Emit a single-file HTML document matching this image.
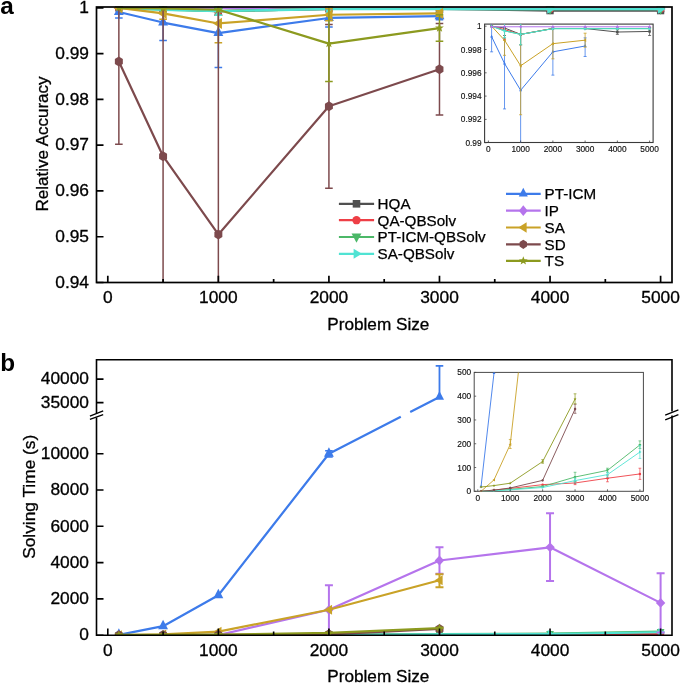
<!DOCTYPE html>
<html><head><meta charset="utf-8"><title>Figure</title>
<style>
html,body{margin:0;padding:0;background:#fff;}
body{width:680px;height:685px;overflow:hidden;}
svg{display:block;font-family:"Liberation Sans",Arial,Helvetica,sans-serif;fill:#000;}
.t{font-size:16.3px;}
.lg{font-size:15.4px;}
.in{font-size:8.3px;fill:#111;stroke:#111;stroke-width:0.15px;}
.pl{font-size:24.3px;font-weight:bold;}
</style></head><body>
<svg width="680" height="685" viewBox="0 0 680 685">
<rect width="680" height="685" fill="#fff"/>
<defs>
<clipPath id="ca"><rect x="96.5" y="6.4" width="575.5" height="276.1"/></clipPath>
<clipPath id="cb"><rect x="96.5" y="359.7" width="575.5" height="275.6"/></clipPath>
<clipPath id="cia"><rect x="484.6" y="24.1" width="168.5" height="118.4"/></clipPath>
<clipPath id="cib"><rect x="474.2" y="372.4" width="169.2" height="119"/></clipPath>
</defs>

<g clip-path="url(#ca)">
<path d="M118.86,7.90L163.08,7.90L218.36,7.90L328.92,7.90L439.48,7.90L550.04,7.90L660.60,7.90" stroke="#b574ec" stroke-width="2.2" fill="none" stroke-linejoin="round"/><polygon points="114.11,7.90 118.86,2.03 123.61,7.90 118.86,13.78" fill="#b574ec"/><polygon points="158.33,7.90 163.08,2.03 167.83,7.90 163.08,13.78" fill="#b574ec"/><polygon points="213.61,7.90 218.36,2.03 223.11,7.90 218.36,13.78" fill="#b574ec"/><polygon points="324.17,7.90 328.92,2.03 333.67,7.90 328.92,13.78" fill="#b574ec"/><polygon points="434.73,7.90 439.48,2.03 444.23,7.90 439.48,13.78" fill="#b574ec"/><polygon points="545.29,7.90 550.04,2.03 554.79,7.90 550.04,13.78" fill="#b574ec"/><polygon points="655.85,7.90 660.60,2.03 665.35,7.90 660.60,13.78" fill="#b574ec"/>
<path d="M163.08,10.65V6.53M159.28,10.65h7.60M159.28,6.53h7.60" stroke="#505050" stroke-width="1.5" fill="none"/><path d="M218.36,15.22V6.98M214.56,15.22h7.60M214.56,6.98h7.60" stroke="#505050" stroke-width="1.5" fill="none"/><path d="M550.04,11.56V8.36M546.24,11.56h7.60M546.24,8.36h7.60" stroke="#505050" stroke-width="1.5" fill="none"/><path d="M660.60,11.56V8.36M656.80,11.56h7.60M656.80,8.36h7.60" stroke="#505050" stroke-width="1.5" fill="none"/><path d="M118.86,7.90L163.08,8.59L218.36,11.10L328.92,8.82L439.48,8.82L550.04,10.65L660.60,10.65" stroke="#505050" stroke-width="2.2" fill="none" stroke-linejoin="round"/><rect x="115.23" y="4.27" width="7.26" height="7.26" fill="#505050"/><rect x="159.45" y="4.96" width="7.26" height="7.26" fill="#505050"/><rect x="214.73" y="7.47" width="7.26" height="7.26" fill="#505050"/><rect x="325.29" y="5.19" width="7.26" height="7.26" fill="#505050"/><rect x="435.85" y="5.19" width="7.26" height="7.26" fill="#505050"/><rect x="546.41" y="7.02" width="7.26" height="7.26" fill="#505050"/><rect x="656.97" y="7.02" width="7.26" height="7.26" fill="#505050"/>
<path d="M163.08,12.48V6.53M159.28,12.48h7.60M159.28,6.53h7.60" stroke="#ee3f46" stroke-width="1.5" fill="none"/><path d="M218.36,15.22V6.98M214.56,15.22h7.60M214.56,6.98h7.60" stroke="#ee3f46" stroke-width="1.5" fill="none"/><path d="M118.86,7.90L163.08,9.27L218.36,11.10L328.92,8.82L439.48,8.82L550.04,8.82L660.60,8.82" stroke="#ee3f46" stroke-width="2.2" fill="none" stroke-linejoin="round"/><circle cx="118.86" cy="7.90" r="3.96" fill="#ee3f46"/><circle cx="163.08" cy="9.27" r="3.96" fill="#ee3f46"/><circle cx="218.36" cy="11.10" r="3.96" fill="#ee3f46"/><circle cx="328.92" cy="8.82" r="3.96" fill="#ee3f46"/><circle cx="439.48" cy="8.82" r="3.96" fill="#ee3f46"/><circle cx="550.04" cy="8.82" r="3.96" fill="#ee3f46"/><circle cx="660.60" cy="8.82" r="3.96" fill="#ee3f46"/>
<path d="M163.08,12.48V6.53M159.28,12.48h7.60M159.28,6.53h7.60" stroke="#4cb868" stroke-width="1.5" fill="none"/><path d="M218.36,15.22V6.98M214.56,15.22h7.60M214.56,6.98h7.60" stroke="#4cb868" stroke-width="1.5" fill="none"/><path d="M118.86,7.90L163.08,9.73L218.36,11.10L328.92,8.82L439.48,8.82L550.04,9.27L660.60,9.27" stroke="#4cb868" stroke-width="2.2" fill="none" stroke-linejoin="round"/><polygon points="114.13,4.60 123.59,4.60 118.86,13.40" fill="#4cb868"/><polygon points="158.35,6.43 167.81,6.43 163.08,15.23" fill="#4cb868"/><polygon points="213.63,7.80 223.09,7.80 218.36,16.60" fill="#4cb868"/><polygon points="324.19,5.52 333.65,5.52 328.92,14.32" fill="#4cb868"/><polygon points="434.75,5.52 444.21,5.52 439.48,14.32" fill="#4cb868"/><polygon points="545.31,5.97 554.77,5.97 550.04,14.77" fill="#4cb868"/><polygon points="655.87,5.97 665.33,5.97 660.60,14.77" fill="#4cb868"/>
<path d="M163.08,12.48V6.53M159.28,12.48h7.60M159.28,6.53h7.60" stroke="#50e3d3" stroke-width="1.5" fill="none"/><path d="M218.36,15.22V6.98M214.56,15.22h7.60M214.56,6.98h7.60" stroke="#50e3d3" stroke-width="1.5" fill="none"/><path d="M118.86,7.90L163.08,9.73L218.36,11.10L328.92,9.04L439.48,9.04L550.04,9.04L660.60,9.04" stroke="#50e3d3" stroke-width="2.4" fill="none" stroke-linejoin="round"/><polygon points="116.08,3.17 116.08,12.63 124.00,7.90" fill="#50e3d3"/><polygon points="160.31,5.00 160.31,14.46 168.23,9.73" fill="#50e3d3"/><polygon points="215.59,6.37 215.59,15.83 223.51,11.10" fill="#50e3d3"/><polygon points="326.15,4.31 326.15,13.77 334.07,9.04" fill="#50e3d3"/><polygon points="436.71,4.31 436.71,13.77 444.63,9.04" fill="#50e3d3"/><polygon points="547.27,4.31 547.27,13.77 555.19,9.04" fill="#50e3d3"/><polygon points="657.83,4.31 657.83,13.77 665.75,9.04" fill="#50e3d3"/>
<path d="M118.86,17.97V6.07M115.06,17.97h7.60M115.06,6.07h7.60" stroke="#3d7bea" stroke-width="1.5" fill="none"/><path d="M163.08,40.39V4.70M159.28,40.39h7.60M159.28,4.70h7.60" stroke="#3d7bea" stroke-width="1.5" fill="none"/><path d="M218.36,67.40V-1.25M214.56,67.40h7.60M214.56,-1.25h7.60" stroke="#3d7bea" stroke-width="1.5" fill="none"/><path d="M328.92,27.12V8.82M325.12,27.12h7.60M325.12,8.82h7.60" stroke="#3d7bea" stroke-width="1.5" fill="none"/><path d="M439.48,19.80V12.48M435.68,19.80h7.60M435.68,12.48h7.60" stroke="#3d7bea" stroke-width="1.5" fill="none"/><path d="M118.86,12.02L163.08,22.55L218.36,33.07L328.92,17.97L439.48,16.14" stroke="#3d7bea" stroke-width="2.2" fill="none" stroke-linejoin="round"/><polygon points="113.92,15.02 123.79,15.02 118.86,5.52" fill="#3d7bea"/><polygon points="158.14,25.55 168.02,25.55 163.08,16.05" fill="#3d7bea"/><polygon points="213.42,36.07 223.30,36.07 218.36,26.57" fill="#3d7bea"/><polygon points="323.98,20.97 333.86,20.97 328.92,11.47" fill="#3d7bea"/><polygon points="434.54,19.14 444.42,19.14 439.48,9.64" fill="#3d7bea"/>
<path d="M163.08,19.34V7.44M159.28,19.34h7.60M159.28,7.44h7.60" stroke="#c9a227" stroke-width="1.5" fill="none"/><path d="M218.36,42.68V4.24M214.56,42.68h7.60M214.56,4.24h7.60" stroke="#c9a227" stroke-width="1.5" fill="none"/><path d="M328.92,20.71V8.82M325.12,20.71h7.60M325.12,8.82h7.60" stroke="#c9a227" stroke-width="1.5" fill="none"/><path d="M439.48,16.14V10.65M435.68,16.14h7.60M435.68,10.65h7.60" stroke="#c9a227" stroke-width="1.5" fill="none"/><path d="M118.86,7.90L163.08,13.39L218.36,23.46L328.92,14.76L439.48,13.39" stroke="#c9a227" stroke-width="2.2" fill="none" stroke-linejoin="round"/><polygon points="122.46,2.28 122.46,13.53 113.46,7.90" fill="#c9a227"/><polygon points="166.68,7.77 166.68,19.02 157.68,13.39" fill="#c9a227"/><polygon points="221.96,17.84 221.96,29.09 212.96,23.46" fill="#c9a227"/><polygon points="332.52,9.14 332.52,20.39 323.52,14.76" fill="#c9a227"/><polygon points="443.08,7.77 443.08,19.02 434.08,13.39" fill="#c9a227"/>
<path d="M118.86,144.28V-21.39M115.06,144.28h7.60M115.06,-21.39h7.60" stroke="#7d4a4d" stroke-width="1.5" fill="none"/><path d="M163.08,328.27V-14.98M159.28,328.27h7.60M159.28,-14.98h7.60" stroke="#7d4a4d" stroke-width="1.5" fill="none"/><path d="M218.36,328.27V-14.98M214.56,328.27h7.60M214.56,-14.98h7.60" stroke="#7d4a4d" stroke-width="1.5" fill="none"/><path d="M328.92,188.22V24.38M325.12,188.22h7.60M325.12,24.38h7.60" stroke="#7d4a4d" stroke-width="1.5" fill="none"/><path d="M439.48,114.99V23.46M435.68,114.99h7.60M435.68,23.46h7.60" stroke="#7d4a4d" stroke-width="1.5" fill="none"/><path d="M118.86,61.45L163.08,156.18L218.36,234.44L328.92,106.30L439.48,69.23" stroke="#7d4a4d" stroke-width="2.2" fill="none" stroke-linejoin="round"/><polygon points="122.84,63.95 118.86,66.45 114.87,63.95 114.87,58.95 118.86,56.45 122.84,58.95" fill="#7d4a4d"/><polygon points="167.06,158.68 163.08,161.18 159.10,158.68 159.10,153.68 163.08,151.18 167.06,153.68" fill="#7d4a4d"/><polygon points="222.34,236.94 218.36,239.44 214.38,236.94 214.38,231.94 218.36,229.44 222.34,231.94" fill="#7d4a4d"/><polygon points="332.90,108.80 328.92,111.30 324.94,108.80 324.94,103.80 328.92,101.30 332.90,103.80" fill="#7d4a4d"/><polygon points="443.46,71.73 439.48,74.23 435.50,71.73 435.50,66.73 439.48,64.23 443.46,66.73" fill="#7d4a4d"/>
<path d="M328.92,81.58V5.61M325.12,81.58h7.60M325.12,5.61h7.60" stroke="#8c9a1f" stroke-width="1.5" fill="none"/><path d="M439.48,41.31V14.76M435.68,41.31h7.60M435.68,14.76h7.60" stroke="#8c9a1f" stroke-width="1.5" fill="none"/><path d="M118.86,7.90L163.08,8.36L218.36,9.73L328.92,43.60L439.48,28.04" stroke="#8c9a1f" stroke-width="2.2" fill="none" stroke-linejoin="round"/><polygon points="118.86,3.30 119.97,6.36 123.23,6.48 120.66,8.49 121.56,11.62 118.86,9.80 116.15,11.62 117.05,8.49 114.48,6.48 117.74,6.36" fill="#8c9a1f"/><polygon points="163.08,3.76 164.20,6.82 167.45,6.94 164.89,8.94 165.78,12.08 163.08,10.26 160.38,12.08 161.27,8.94 158.71,6.94 161.96,6.82" fill="#8c9a1f"/><polygon points="218.36,5.13 219.48,8.19 222.73,8.31 220.17,10.32 221.06,13.45 218.36,11.63 215.66,13.45 216.55,10.32 213.99,8.31 217.24,8.19" fill="#8c9a1f"/><polygon points="328.92,39.00 330.04,42.06 333.29,42.18 330.73,44.19 331.62,47.32 328.92,45.50 326.22,47.32 327.11,44.19 324.55,42.18 327.80,42.06" fill="#8c9a1f"/><polygon points="439.48,23.44 440.60,26.50 443.85,26.62 441.29,28.62 442.18,31.76 439.48,29.94 436.78,31.76 437.67,28.62 435.11,26.62 438.36,26.50" fill="#8c9a1f"/>
</g>
<rect x="96.5" y="7.0" width="575.5" height="275.5" fill="none" stroke="#000" stroke-width="1.7"/>
<path d="M96.5,7.90h7M96.5,53.67h7M96.5,99.43h7M96.5,145.20h7M96.5,190.97h7M96.5,236.73h7M96.5,282.50h7M107.80,282.5v-6.8M218.36,282.5v-6.8M328.92,282.5v-6.8M439.48,282.5v-6.8M550.04,282.5v-6.8M660.60,282.5v-6.8M163.08,282.5v-3.6M273.64,282.5v-3.6M384.20,282.5v-3.6M494.76,282.5v-3.6M605.32,282.5v-3.6" stroke="#000" stroke-width="1.7" fill="none"/>
<text transform="translate(89.00,13.10) scale(1.04,1)" text-anchor="end" style="font-size:16.7px" stroke="#000" stroke-width="0.3">1</text>
<text transform="translate(89.00,58.87) scale(1.04,1)" text-anchor="end" style="font-size:16.7px" stroke="#000" stroke-width="0.3">0.99</text>
<text transform="translate(89.00,104.63) scale(1.04,1)" text-anchor="end" style="font-size:16.7px" stroke="#000" stroke-width="0.3">0.98</text>
<text transform="translate(89.00,150.40) scale(1.04,1)" text-anchor="end" style="font-size:16.7px" stroke="#000" stroke-width="0.3">0.97</text>
<text transform="translate(89.00,196.17) scale(1.04,1)" text-anchor="end" style="font-size:16.7px" stroke="#000" stroke-width="0.3">0.96</text>
<text transform="translate(89.00,241.93) scale(1.04,1)" text-anchor="end" style="font-size:16.7px" stroke="#000" stroke-width="0.3">0.95</text>
<text transform="translate(89.00,287.70) scale(1.04,1)" text-anchor="end" style="font-size:16.7px" stroke="#000" stroke-width="0.3">0.94</text>
<text transform="translate(107.80,302.90) scale(1.04,1)" text-anchor="middle" style="font-size:16.7px" stroke="#000" stroke-width="0.3">0</text>
<text transform="translate(218.36,302.90) scale(1.04,1)" text-anchor="middle" style="font-size:16.7px" stroke="#000" stroke-width="0.3">1000</text>
<text transform="translate(328.92,302.90) scale(1.04,1)" text-anchor="middle" style="font-size:16.7px" stroke="#000" stroke-width="0.3">2000</text>
<text transform="translate(439.48,302.90) scale(1.04,1)" text-anchor="middle" style="font-size:16.7px" stroke="#000" stroke-width="0.3">3000</text>
<text transform="translate(550.04,302.90) scale(1.04,1)" text-anchor="middle" style="font-size:16.7px" stroke="#000" stroke-width="0.3">4000</text>
<text transform="translate(660.60,302.90) scale(1.04,1)" text-anchor="middle" style="font-size:16.7px" stroke="#000" stroke-width="0.3">5000</text>
<text transform="translate(378.30,330.30) scale(1.035,1)" text-anchor="middle" style="font-size:16.6px" stroke="#000" stroke-width="0.3">Problem Size</text>
<text transform="translate(47.80,144.00) rotate(-90) scale(1.024,1)" text-anchor="middle" style="font-size:16.6px" stroke="#000" stroke-width="0.3">Relative Accuracy</text>
<text class="pl" x="0.2" y="13.9">a</text>
<path d="M338.9,203.8H374.1" stroke="#505050" stroke-width="2.2"/><rect x="352.70" y="200.01" width="7.59" height="7.59" fill="#505050"/><text transform="translate(377.60,209.20) scale(1.0,1)" text-anchor="start" style="font-size:15.2px" stroke="#000" stroke-width="0.25">HQA</text><path d="M338.9,220.2H374.1" stroke="#ee3f46" stroke-width="2.2"/><circle cx="356.50" cy="220.20" r="4.14" fill="#ee3f46"/><text transform="translate(377.60,225.60) scale(1.0,1)" text-anchor="start" style="font-size:15.2px" stroke="#000" stroke-width="0.25">QA-QBSolv</text><path d="M338.9,237.0H374.1" stroke="#4cb868" stroke-width="2.2"/><polygon points="351.56,233.55 361.44,233.55 356.50,242.75" fill="#4cb868"/><text transform="translate(377.60,242.40) scale(1.0,1)" text-anchor="start" style="font-size:15.2px" stroke="#000" stroke-width="0.25">PT-ICM-QBSolv</text><path d="M338.9,253.8H374.1" stroke="#50e3d3" stroke-width="2.2"/><polygon points="353.60,248.86 353.60,258.75 361.88,253.80" fill="#50e3d3"/><text transform="translate(377.60,259.20) scale(1.0,1)" text-anchor="start" style="font-size:15.2px" stroke="#000" stroke-width="0.25">SA-QBSolv</text>
<path d="M506,193.8H540.7" stroke="#3d7bea" stroke-width="2.2"/><polygon points="518.76,196.56 527.84,196.56 523.30,187.82" fill="#3d7bea"/><text transform="translate(544.60,199.20) scale(1.0,1)" text-anchor="start" style="font-size:15.2px" stroke="#000" stroke-width="0.25">PT-ICM</text><path d="M506,210.7H540.7" stroke="#b574ec" stroke-width="2.2"/><polygon points="518.93,210.70 523.30,205.29 527.67,210.70 523.30,216.10" fill="#b574ec"/><text transform="translate(544.60,216.10) scale(1.0,1)" text-anchor="start" style="font-size:15.2px" stroke="#000" stroke-width="0.25">IP</text><path d="M506,227.5H540.7" stroke="#c9a227" stroke-width="2.2"/><polygon points="526.61,222.32 526.61,232.68 518.33,227.50" fill="#c9a227"/><text transform="translate(544.60,232.90) scale(1.0,1)" text-anchor="start" style="font-size:15.2px" stroke="#000" stroke-width="0.25">SA</text><path d="M506,244.3H540.7" stroke="#7d4a4d" stroke-width="2.2"/><polygon points="526.97,246.60 523.30,248.90 519.63,246.60 519.63,242.00 523.30,239.70 526.97,242.00" fill="#7d4a4d"/><text transform="translate(544.60,249.70) scale(1.0,1)" text-anchor="start" style="font-size:15.2px" stroke="#000" stroke-width="0.25">SD</text><path d="M506,260.8H540.7" stroke="#8c9a1f" stroke-width="2.2"/><polygon points="523.30,256.20 524.42,259.26 527.67,259.38 525.11,261.39 526.00,264.52 523.30,262.70 520.60,264.52 521.49,261.39 518.93,259.38 522.18,259.26" fill="#8c9a1f"/><text transform="translate(544.60,266.20) scale(1.0,1)" text-anchor="start" style="font-size:15.2px" stroke="#000" stroke-width="0.25">TS</text>
<rect x="484.6" y="24.1" width="168.5" height="118.4" fill="#fff" stroke="#3a3a3a" stroke-width="1.1"/>
<g clip-path="url(#cia)">
<path d="M491.62,51.83V21.54M490.12,51.83h3.00M490.12,21.54h3.00" stroke="#3d7bea" stroke-width="0.8" fill="none"/><path d="M504.52,108.91V18.05M503.02,108.91h3.00M503.02,18.05h3.00" stroke="#3d7bea" stroke-width="0.8" fill="none"/><path d="M520.64,177.65V2.90M519.14,177.65h3.00M519.14,2.90h3.00" stroke="#3d7bea" stroke-width="0.8" fill="none"/><path d="M552.88,75.13V28.53M551.38,75.13h3.00M551.38,28.53h3.00" stroke="#3d7bea" stroke-width="0.8" fill="none"/><path d="M585.12,56.49V37.85M583.62,56.49h3.00M583.62,37.85h3.00" stroke="#3d7bea" stroke-width="0.8" fill="none"/><path d="M491.62,36.69L504.52,63.48L520.64,90.27L552.88,51.83L585.12,46.01" stroke="#3d7bea" stroke-width="1.0" fill="none" stroke-linejoin="round"/><polygon points="490.12,37.60 493.12,37.60 491.62,34.71" fill="#3d7bea"/><polygon points="503.02,64.39 506.02,64.39 504.52,61.50" fill="#3d7bea"/><polygon points="519.14,91.19 522.14,91.19 520.64,88.30" fill="#3d7bea"/><polygon points="551.38,52.74 554.38,52.74 552.88,49.85" fill="#3d7bea"/><polygon points="583.62,46.92 586.62,46.92 585.12,44.03" fill="#3d7bea"/>
<path d="M504.52,55.32V40.18M503.02,55.32h3.00M503.02,40.18h3.00" stroke="#c9a227" stroke-width="0.8" fill="none"/><path d="M520.64,114.74V16.88M519.14,114.74h3.00M519.14,16.88h3.00" stroke="#c9a227" stroke-width="0.8" fill="none"/><path d="M552.88,58.82V28.53M551.38,58.82h3.00M551.38,28.53h3.00" stroke="#c9a227" stroke-width="0.8" fill="none"/><path d="M585.12,47.17V33.19M583.62,47.17h3.00M583.62,33.19h3.00" stroke="#c9a227" stroke-width="0.8" fill="none"/><path d="M491.62,26.20L504.52,40.18L520.64,65.81L552.88,43.67L585.12,40.18" stroke="#c9a227" stroke-width="1.0" fill="none" stroke-linejoin="round"/><polygon points="492.72,24.49 492.72,27.91 489.98,26.20" fill="#c9a227"/><polygon points="505.61,38.47 505.61,41.89 502.88,40.18" fill="#c9a227"/><polygon points="521.73,64.10 521.73,67.52 519.00,65.81" fill="#c9a227"/><polygon points="553.97,41.96 553.97,45.38 551.24,43.67" fill="#c9a227"/><polygon points="586.21,38.47 586.21,41.89 583.48,40.18" fill="#c9a227"/>
<path d="M504.52,35.52V22.71M503.02,35.52h3.00M503.02,22.71h3.00" stroke="#505050" stroke-width="0.8" fill="none"/><path d="M617.36,34.36V29.69M615.86,34.36h3.00M615.86,29.69h3.00" stroke="#505050" stroke-width="0.8" fill="none"/><path d="M649.60,35.52V27.36M648.10,35.52h3.00M648.10,27.36h3.00" stroke="#505050" stroke-width="0.8" fill="none"/><path d="M491.62,26.20L504.52,27.95L520.64,34.36L552.88,28.53L585.12,28.53L617.36,32.02L649.60,31.44" stroke="#505050" stroke-width="1.0" fill="none" stroke-linejoin="round"/><rect x="490.37" y="24.95" width="2.51" height="2.51" fill="#505050"/><rect x="503.27" y="26.69" width="2.51" height="2.51" fill="#505050"/><rect x="519.39" y="33.10" width="2.51" height="2.51" fill="#505050"/><rect x="551.63" y="27.28" width="2.51" height="2.51" fill="#505050"/><rect x="583.87" y="27.28" width="2.51" height="2.51" fill="#505050"/><rect x="616.11" y="30.77" width="2.51" height="2.51" fill="#505050"/><rect x="648.35" y="30.19" width="2.51" height="2.51" fill="#505050"/>
<path d="M504.52,39.01V22.71M503.02,39.01h3.00M503.02,22.71h3.00" stroke="#ee3f46" stroke-width="0.8" fill="none"/><path d="M520.64,44.84V23.87M519.14,44.84h3.00M519.14,23.87h3.00" stroke="#ee3f46" stroke-width="0.8" fill="none"/><path d="M491.62,26.20L504.52,29.69L520.64,34.36L552.88,28.53L585.12,28.53L617.36,28.53L649.60,28.53" stroke="#ee3f46" stroke-width="1.0" fill="none" stroke-linejoin="round"/><circle cx="491.62" cy="26.20" r="1.37" fill="#ee3f46"/><circle cx="504.52" cy="29.69" r="1.37" fill="#ee3f46"/><circle cx="520.64" cy="34.36" r="1.37" fill="#ee3f46"/><circle cx="552.88" cy="28.53" r="1.37" fill="#ee3f46"/><circle cx="585.12" cy="28.53" r="1.37" fill="#ee3f46"/><circle cx="617.36" cy="28.53" r="1.37" fill="#ee3f46"/><circle cx="649.60" cy="28.53" r="1.37" fill="#ee3f46"/>
<path d="M504.52,37.85V22.71M503.02,37.85h3.00M503.02,22.71h3.00" stroke="#4cb868" stroke-width="0.8" fill="none"/><path d="M520.64,44.84V23.87M519.14,44.84h3.00M519.14,23.87h3.00" stroke="#4cb868" stroke-width="0.8" fill="none"/><path d="M491.62,26.20L504.52,30.86L520.64,34.36L552.88,28.53L585.12,28.53L617.36,28.53L649.60,28.53" stroke="#4cb868" stroke-width="1.0" fill="none" stroke-linejoin="round"/><polygon points="489.99,25.06 493.26,25.06 491.62,28.10" fill="#4cb868"/><polygon points="502.89,29.72 506.15,29.72 504.52,32.76" fill="#4cb868"/><polygon points="519.01,33.22 522.27,33.22 520.64,36.26" fill="#4cb868"/><polygon points="551.25,27.39 554.51,27.39 552.88,30.43" fill="#4cb868"/><polygon points="583.49,27.39 586.75,27.39 585.12,30.43" fill="#4cb868"/><polygon points="615.73,27.39 618.99,27.39 617.36,30.43" fill="#4cb868"/><polygon points="647.97,27.39 651.23,27.39 649.60,30.43" fill="#4cb868"/>
<path d="M504.52,37.85V22.71M503.02,37.85h3.00M503.02,22.71h3.00" stroke="#50e3d3" stroke-width="0.8" fill="none"/><path d="M520.64,44.84V23.87M519.14,44.84h3.00M519.14,23.87h3.00" stroke="#50e3d3" stroke-width="0.8" fill="none"/><path d="M491.62,26.20L504.52,30.86L520.64,34.36L552.88,28.76L585.12,28.76L617.36,28.76L649.60,28.76" stroke="#50e3d3" stroke-width="1.0" fill="none" stroke-linejoin="round"/><polygon points="490.67,24.57 490.67,27.83 493.40,26.20" fill="#50e3d3"/><polygon points="503.56,29.23 503.56,32.49 506.30,30.86" fill="#50e3d3"/><polygon points="519.68,32.72 519.68,35.99 522.42,34.36" fill="#50e3d3"/><polygon points="551.92,27.13 551.92,30.40 554.66,28.76" fill="#50e3d3"/><polygon points="584.16,27.13 584.16,30.40 586.90,28.76" fill="#50e3d3"/><polygon points="616.40,27.13 616.40,30.40 619.14,28.76" fill="#50e3d3"/><polygon points="648.64,27.13 648.64,30.40 651.38,28.76" fill="#50e3d3"/>
<path d="M491.62,26.78L504.52,26.78L520.64,26.78L552.88,26.78L585.12,26.78L617.36,26.78L649.60,26.78" stroke="#b574ec" stroke-width="1.0" fill="none" stroke-linejoin="round"/><polygon points="490.18,26.78 491.62,25.00 493.07,26.78 491.62,28.57" fill="#b574ec"/><polygon points="503.08,26.78 504.52,25.00 505.96,26.78 504.52,28.57" fill="#b574ec"/><polygon points="519.20,26.78 520.64,25.00 522.08,26.78 520.64,28.57" fill="#b574ec"/><polygon points="551.44,26.78 552.88,25.00 554.32,26.78 552.88,28.57" fill="#b574ec"/><polygon points="583.68,26.78 585.12,25.00 586.56,26.78 585.12,28.57" fill="#b574ec"/><polygon points="615.92,26.78 617.36,25.00 618.80,26.78 617.36,28.57" fill="#b574ec"/><polygon points="648.16,26.78 649.60,25.00 651.04,26.78 649.60,28.57" fill="#b574ec"/>
</g>
<path d="M484.6,26.20h2M484.6,49.50h2M484.6,72.80h2M484.6,96.10h2M484.6,119.40h2M484.6,142.70h2M488.40,142.5v-2M520.64,142.5v-2M552.88,142.5v-2M585.12,142.5v-2M617.36,142.5v-2M649.60,142.5v-2" stroke="#444" stroke-width="0.8" fill="none"/>
<text class="in" x="481.6" y="29.20" text-anchor="end">1</text>
<text class="in" x="481.6" y="52.50" text-anchor="end">0.998</text>
<text class="in" x="481.6" y="75.80" text-anchor="end">0.996</text>
<text class="in" x="481.6" y="99.10" text-anchor="end">0.994</text>
<text class="in" x="481.6" y="122.40" text-anchor="end">0.992</text>
<text class="in" x="481.6" y="145.70" text-anchor="end">0.99</text>
<text class="in" x="488.40" y="152.3" text-anchor="middle">0</text>
<text class="in" x="520.64" y="152.3" text-anchor="middle">1000</text>
<text class="in" x="552.88" y="152.3" text-anchor="middle">2000</text>
<text class="in" x="585.12" y="152.3" text-anchor="middle">3000</text>
<text class="in" x="617.36" y="152.3" text-anchor="middle">4000</text>
<text class="in" x="649.60" y="152.3" text-anchor="middle">5000</text>
<g clip-path="url(#cb)">
<path d="M118.86,635.20L163.08,635.15L218.36,635.05L328.92,634.84L439.48,634.66L550.04,634.47L660.60,634.11" stroke="#505050" stroke-width="2.1" fill="none" stroke-linejoin="round"/><rect x="115.89" y="632.23" width="5.94" height="5.94" fill="#505050"/><rect x="160.11" y="632.18" width="5.94" height="5.94" fill="#505050"/><rect x="215.39" y="632.08" width="5.94" height="5.94" fill="#505050"/><rect x="325.95" y="631.87" width="5.94" height="5.94" fill="#505050"/><rect x="436.51" y="631.69" width="5.94" height="5.94" fill="#505050"/><rect x="547.07" y="631.50" width="5.94" height="5.94" fill="#505050"/><rect x="657.63" y="631.14" width="5.94" height="5.94" fill="#505050"/>
<path d="M660.60,634.29V633.44M657.00,634.29h7.20M657.00,633.44h7.20" stroke="#ee3f46" stroke-width="1.3" fill="none"/><path d="M118.86,635.20L163.08,635.11L218.36,634.98L328.92,634.69L439.48,634.56L550.04,634.20L660.60,633.88" stroke="#ee3f46" stroke-width="2.1" fill="none" stroke-linejoin="round"/><circle cx="118.86" cy="635.20" r="3.24" fill="#ee3f46"/><circle cx="163.08" cy="635.11" r="3.24" fill="#ee3f46"/><circle cx="218.36" cy="634.98" r="3.24" fill="#ee3f46"/><circle cx="328.92" cy="634.69" r="3.24" fill="#ee3f46"/><circle cx="439.48" cy="634.56" r="3.24" fill="#ee3f46"/><circle cx="550.04" cy="634.20" r="3.24" fill="#ee3f46"/><circle cx="660.60" cy="633.88" r="3.24" fill="#ee3f46"/>
<path d="M439.48,634.47V633.75M435.88,634.47h7.20M435.88,633.75h7.20" stroke="#4cb868" stroke-width="1.3" fill="none"/><path d="M660.60,632.02V631.30M657.00,632.02h7.20M657.00,631.30h7.20" stroke="#4cb868" stroke-width="1.3" fill="none"/><path d="M118.86,635.20L163.08,635.15L218.36,635.05L328.92,634.84L439.48,634.11L550.04,633.60L660.60,631.66" stroke="#4cb868" stroke-width="2.1" fill="none" stroke-linejoin="round"/><polygon points="114.99,632.50 122.73,632.50 118.86,639.70" fill="#4cb868"/><polygon points="159.21,632.45 166.95,632.45 163.08,639.65" fill="#4cb868"/><polygon points="214.49,632.35 222.23,632.35 218.36,639.55" fill="#4cb868"/><polygon points="325.05,632.14 332.79,632.14 328.92,639.34" fill="#4cb868"/><polygon points="435.61,631.41 443.35,631.41 439.48,638.61" fill="#4cb868"/><polygon points="546.17,630.90 553.91,630.90 550.04,638.10" fill="#4cb868"/><polygon points="656.73,628.96 664.47,628.96 660.60,636.16" fill="#4cb868"/>
<path d="M660.60,632.75V631.66M657.00,632.75h7.20M657.00,631.66h7.20" stroke="#50e3d3" stroke-width="1.3" fill="none"/><path d="M118.86,635.20L163.08,635.16L218.36,635.09L328.92,634.91L439.48,634.38L550.04,633.93L660.60,632.21" stroke="#50e3d3" stroke-width="2.1" fill="none" stroke-linejoin="round"/><polygon points="116.59,631.33 116.59,639.07 123.07,635.20" fill="#50e3d3"/><polygon points="160.81,631.29 160.81,639.03 167.29,635.16" fill="#50e3d3"/><polygon points="216.09,631.22 216.09,638.96 222.57,635.09" fill="#50e3d3"/><polygon points="326.65,631.04 326.65,638.78 333.13,634.91" fill="#50e3d3"/><polygon points="437.21,630.51 437.21,638.25 443.69,634.38" fill="#50e3d3"/><polygon points="547.77,630.06 547.77,637.80 554.25,633.93" fill="#50e3d3"/><polygon points="658.33,628.34 658.33,636.08 664.81,632.21" fill="#50e3d3"/>
<path d="M328.92,456.88V450.71M325.12,456.88h7.60M325.12,450.71h7.60" stroke="#3d7bea" stroke-width="1.5" fill="none"/><path d="M118.86,634.84L163.08,626.18L218.36,595.27L328.92,453.70" stroke="#3d7bea" stroke-width="2.2" fill="none" stroke-linejoin="round"/><polygon points="113.92,637.84 123.79,637.84 118.86,628.34" fill="#3d7bea"/><polygon points="158.14,629.18 168.02,629.18 163.08,619.68" fill="#3d7bea"/><polygon points="213.42,598.27 223.30,598.27 218.36,588.77" fill="#3d7bea"/><polygon points="323.98,456.70 333.86,456.70 328.92,447.20" fill="#3d7bea"/>
<path d="M328.92,453.70L400.8,416.84M410.2,412.02L439.48,397.00" stroke="#3d7bea" stroke-width="2.2" fill="none"/>
<path d="M439.48,397V365.8M435.68,365.8h7.6" stroke="#3d7bea" stroke-width="1.8" fill="none"/>
<polygon points="434.94,399.76 444.02,399.76 439.48,391.02" fill="#3d7bea"/>
<path d="M328.92,634.29V585.29M324.92,634.29h8.00M324.92,585.29h8.00" stroke="#b574ec" stroke-width="2.0" fill="none"/><path d="M439.48,573.67V547.35M435.48,573.67h8.00M435.48,547.35h8.00" stroke="#b574ec" stroke-width="2.0" fill="none"/><path d="M550.04,581.11V513.23M546.04,581.11h8.00M546.04,513.23h8.00" stroke="#b574ec" stroke-width="2.0" fill="none"/><path d="M660.60,632.48V573.31M656.60,632.48h8.00M656.60,573.31h8.00" stroke="#b574ec" stroke-width="2.0" fill="none"/><path d="M118.86,635.20L163.08,635.20L218.36,635.11L328.92,609.79L439.48,560.51L550.04,547.35L660.60,602.89" stroke="#b574ec" stroke-width="2.2" fill="none" stroke-linejoin="round"/><polygon points="114.16,635.20 118.86,630.30 123.56,635.20 118.86,640.10" fill="#b574ec"/><polygon points="158.38,635.20 163.08,630.30 167.78,635.20 163.08,640.10" fill="#b574ec"/><polygon points="213.66,635.11 218.36,630.21 223.06,635.11 218.36,640.01" fill="#b574ec"/><polygon points="324.22,609.79 328.92,604.89 333.62,609.79 328.92,614.69" fill="#b574ec"/><polygon points="434.78,560.51 439.48,555.61 444.18,560.51 439.48,565.41" fill="#b574ec"/><polygon points="545.34,547.35 550.04,542.45 554.74,547.35 550.04,552.25" fill="#b574ec"/><polygon points="655.90,602.89 660.60,597.99 665.30,602.89 660.60,607.79" fill="#b574ec"/>
<path d="M439.48,587.28V574.13M435.48,587.28h8.00M435.48,574.13h8.00" stroke="#c9a227" stroke-width="2.0" fill="none"/><path d="M118.86,635.20L163.08,634.33L218.36,631.62L328.92,609.79L439.48,580.30" stroke="#c9a227" stroke-width="2.2" fill="none" stroke-linejoin="round"/><polygon points="122.02,630.25 122.02,640.15 114.10,635.20" fill="#c9a227"/><polygon points="166.25,629.38 166.25,639.28 158.33,634.33" fill="#c9a227"/><polygon points="221.53,626.67 221.53,636.57 213.61,631.62" fill="#c9a227"/><polygon points="332.09,604.84 332.09,614.74 324.17,609.79" fill="#c9a227"/><polygon points="442.65,575.35 442.65,585.25 434.73,580.30" fill="#c9a227"/>
<path d="M118.86,635.20L163.08,635.11L218.36,634.95L328.92,634.37L439.48,628.92" stroke="#7d4a4d" stroke-width="2.2" fill="none" stroke-linejoin="round"/><polygon points="122.84,637.70 118.86,640.20 114.87,637.70 114.87,632.70 118.86,630.20 122.84,632.70" fill="#7d4a4d"/><polygon points="167.06,637.61 163.08,640.11 159.10,637.61 159.10,632.61 163.08,630.11 167.06,632.61" fill="#7d4a4d"/><polygon points="222.34,637.45 218.36,639.95 214.38,637.45 214.38,632.45 218.36,629.95 222.34,632.45" fill="#7d4a4d"/><polygon points="332.90,636.87 328.92,639.37 324.94,636.87 324.94,631.87 328.92,629.37 332.90,631.87" fill="#7d4a4d"/><polygon points="443.46,631.42 439.48,633.92 435.50,631.42 435.50,626.42 439.48,623.92 443.46,626.42" fill="#7d4a4d"/>
<path d="M439.48,628.58V627.76M435.48,628.58h8.00M435.48,627.76h8.00" stroke="#8c9a1f" stroke-width="1.5" fill="none"/><path d="M118.86,634.87L163.08,634.76L218.36,634.58L328.92,632.93L439.48,628.16" stroke="#8c9a1f" stroke-width="2.2" fill="none" stroke-linejoin="round"/><polygon points="118.86,630.27 119.97,633.34 123.23,633.45 120.66,635.46 121.56,638.59 118.86,636.77 116.15,638.59 117.05,635.46 114.48,633.45 117.74,633.34" fill="#8c9a1f"/><polygon points="163.08,630.16 164.20,633.23 167.45,633.34 164.89,635.35 165.78,638.49 163.08,636.66 160.38,638.49 161.27,635.35 158.71,633.34 161.96,633.23" fill="#8c9a1f"/><polygon points="218.36,629.98 219.48,633.05 222.73,633.16 220.17,635.17 221.06,638.30 218.36,636.48 215.66,638.30 216.55,635.17 213.99,633.16 217.24,633.05" fill="#8c9a1f"/><polygon points="328.92,628.33 330.04,631.39 333.29,631.51 330.73,633.52 331.62,636.65 328.92,634.83 326.22,636.65 327.11,633.52 324.55,631.51 327.80,631.39" fill="#8c9a1f"/><polygon points="439.48,623.56 440.60,626.62 443.85,626.74 441.29,628.74 442.18,631.88 439.48,630.06 436.78,631.88 437.67,628.74 435.11,626.74 438.36,626.62" fill="#8c9a1f"/>
</g>
<path d="M96.5,417.6V635.2H672V415.6M672,411.4V359.7H96.5V413.4" fill="none" stroke="#000" stroke-width="1.6" stroke-linejoin="miter"/>
<path d="M89.9,416.1L103.2,410.9M89.9,419.4L103.2,414.6M665.2,415.1L678.4,409.9M665.2,419.9L678.4,414.7" stroke="#000" stroke-width="1.3" fill="none"/>
<path d="M96.5,635.20h7M96.5,598.90h7M96.5,562.60h7M96.5,526.30h7M96.5,490.00h7M96.5,453.70h7M96.5,402.60h7M96.5,379.10h7M107.80,635.2v-6.8M218.36,635.2v-6.8M328.92,635.2v-6.8M439.48,635.2v-6.8M550.04,635.2v-6.8M660.60,635.2v-6.8M163.08,635.2v-3.6M273.64,635.2v-3.6M384.20,635.2v-3.6M494.76,635.2v-3.6M605.32,635.2v-3.6" stroke="#000" stroke-width="1.6" fill="none"/>
<text transform="translate(89.00,640.40) scale(1.04,1)" text-anchor="end" style="font-size:16.7px" stroke="#000" stroke-width="0.3">0</text>
<text transform="translate(89.00,604.10) scale(1.04,1)" text-anchor="end" style="font-size:16.7px" stroke="#000" stroke-width="0.3">2000</text>
<text transform="translate(89.00,567.80) scale(1.04,1)" text-anchor="end" style="font-size:16.7px" stroke="#000" stroke-width="0.3">4000</text>
<text transform="translate(89.00,531.50) scale(1.04,1)" text-anchor="end" style="font-size:16.7px" stroke="#000" stroke-width="0.3">6000</text>
<text transform="translate(89.00,495.20) scale(1.04,1)" text-anchor="end" style="font-size:16.7px" stroke="#000" stroke-width="0.3">8000</text>
<text transform="translate(89.00,458.90) scale(1.04,1)" text-anchor="end" style="font-size:16.7px" stroke="#000" stroke-width="0.3">10000</text>
<text transform="translate(89.00,407.80) scale(1.04,1)" text-anchor="end" style="font-size:16.7px" stroke="#000" stroke-width="0.3">35000</text>
<text transform="translate(89.00,384.30) scale(1.04,1)" text-anchor="end" style="font-size:16.7px" stroke="#000" stroke-width="0.3">40000</text>
<text transform="translate(107.80,655.60) scale(1.04,1)" text-anchor="middle" style="font-size:16.7px" stroke="#000" stroke-width="0.3">0</text>
<text transform="translate(218.36,655.60) scale(1.04,1)" text-anchor="middle" style="font-size:16.7px" stroke="#000" stroke-width="0.3">1000</text>
<text transform="translate(328.92,655.60) scale(1.04,1)" text-anchor="middle" style="font-size:16.7px" stroke="#000" stroke-width="0.3">2000</text>
<text transform="translate(439.48,655.60) scale(1.04,1)" text-anchor="middle" style="font-size:16.7px" stroke="#000" stroke-width="0.3">3000</text>
<text transform="translate(550.04,655.60) scale(1.04,1)" text-anchor="middle" style="font-size:16.7px" stroke="#000" stroke-width="0.3">4000</text>
<text transform="translate(660.60,655.60) scale(1.04,1)" text-anchor="middle" style="font-size:16.7px" stroke="#000" stroke-width="0.3">5000</text>
<text transform="translate(378.30,682.30) scale(1.035,1)" text-anchor="middle" style="font-size:16.6px" stroke="#000" stroke-width="0.3">Problem Size</text>
<text transform="translate(34.50,496.80) rotate(-90) scale(1.044,1)" text-anchor="middle" style="font-size:16.6px" stroke="#000" stroke-width="0.3">Solving Time (s)</text>
<text class="pl" x="0.2" y="370.7">b</text>
<rect x="474.2" y="372.4" width="169.2" height="118.9" fill="#fff" stroke="#4a4a4a" stroke-width="1.0"/>
<g clip-path="url(#cib)">
<path d="M575.06,484.64V481.31M573.66,484.64h2.80M573.66,481.31h2.80" stroke="#ee3f46" stroke-width="0.7" fill="none"/><path d="M607.48,481.79V475.13M606.08,481.79h2.80M606.08,475.13h2.80" stroke="#ee3f46" stroke-width="0.7" fill="none"/><path d="M639.90,479.41V468.23M638.50,479.41h2.80M638.50,468.23h2.80" stroke="#ee3f46" stroke-width="0.7" fill="none"/><path d="M481.04,491.30L494.01,490.11L510.22,488.45L542.64,484.64L575.06,482.98L607.48,478.22L639.90,473.94" stroke="#ee3f46" stroke-width="0.9" fill="none" stroke-linejoin="round"/><circle cx="481.04" cy="491.30" r="1.26" fill="#ee3f46"/><circle cx="494.01" cy="490.11" r="1.26" fill="#ee3f46"/><circle cx="510.22" cy="488.45" r="1.26" fill="#ee3f46"/><circle cx="542.64" cy="484.64" r="1.26" fill="#ee3f46"/><circle cx="575.06" cy="482.98" r="1.26" fill="#ee3f46"/><circle cx="607.48" cy="478.22" r="1.26" fill="#ee3f46"/><circle cx="639.90" cy="473.94" r="1.26" fill="#ee3f46"/>
<path d="M575.06,481.31V472.28M573.66,481.31h2.80M573.66,472.28h2.80" stroke="#4cb868" stroke-width="0.7" fill="none"/><path d="M607.48,472.28V468.23M606.08,472.28h2.80M606.08,468.23h2.80" stroke="#4cb868" stroke-width="0.7" fill="none"/><path d="M639.90,448.50V440.89M638.50,448.50h2.80M638.50,440.89h2.80" stroke="#4cb868" stroke-width="0.7" fill="none"/><path d="M481.04,491.30L494.01,490.59L510.22,489.40L542.64,486.54L575.06,477.03L607.48,470.37L639.90,444.93" stroke="#4cb868" stroke-width="0.9" fill="none" stroke-linejoin="round"/><polygon points="479.54,490.25 482.55,490.25 481.04,493.05" fill="#4cb868"/><polygon points="492.50,489.54 495.51,489.54 494.01,492.34" fill="#4cb868"/><polygon points="508.72,488.35 511.73,488.35 510.22,491.15" fill="#4cb868"/><polygon points="541.13,485.49 544.14,485.49 542.64,488.29" fill="#4cb868"/><polygon points="573.55,475.98 576.56,475.98 575.06,478.78" fill="#4cb868"/><polygon points="605.98,469.32 608.99,469.32 607.48,472.12" fill="#4cb868"/><polygon points="638.39,443.88 641.40,443.88 639.90,446.68" fill="#4cb868"/>
<path d="M575.06,482.98V478.22M573.66,482.98h2.80M573.66,478.22h2.80" stroke="#50e3d3" stroke-width="0.7" fill="none"/><path d="M607.48,477.03V472.28M606.08,477.03h2.80M606.08,472.28h2.80" stroke="#50e3d3" stroke-width="0.7" fill="none"/><path d="M639.90,458.48V445.64M638.50,458.48h2.80M638.50,445.64h2.80" stroke="#50e3d3" stroke-width="0.7" fill="none"/><path d="M481.04,491.30L494.01,490.82L510.22,489.87L542.64,487.50L575.06,480.60L607.48,474.65L639.90,452.06" stroke="#50e3d3" stroke-width="0.9" fill="none" stroke-linejoin="round"/><polygon points="480.16,489.80 480.16,492.81 482.68,491.30" fill="#50e3d3"/><polygon points="493.13,489.32 493.13,492.33 495.65,490.82" fill="#50e3d3"/><polygon points="509.34,488.37 509.34,491.38 511.86,489.87" fill="#50e3d3"/><polygon points="541.76,485.99 541.76,489.00 544.28,487.50" fill="#50e3d3"/><polygon points="574.18,479.09 574.18,482.10 576.70,480.60" fill="#50e3d3"/><polygon points="606.60,473.15 606.60,476.16 609.12,474.65" fill="#50e3d3"/><polygon points="639.02,450.56 639.02,453.57 641.54,452.06" fill="#50e3d3"/>
<path d="M481.04,486.54L494.01,373.11L510.22,-31.86" stroke="#3d7bea" stroke-width="0.9" fill="none" stroke-linejoin="round"/><polygon points="479.66,487.38 482.42,487.38 481.04,484.72" fill="#3d7bea"/><polygon points="492.63,373.95 495.39,373.95 494.01,371.29" fill="#3d7bea"/><polygon points="508.84,-31.02 511.60,-31.02 510.22,-33.68" fill="#3d7bea"/>
<path d="M510.22,448.50V439.46M508.82,448.50h2.80M508.82,439.46h2.80" stroke="#c9a227" stroke-width="0.7" fill="none"/><path d="M481.04,491.30L494.01,479.89L510.22,444.45L542.64,158.38L575.06,-228.05" stroke="#c9a227" stroke-width="0.9" fill="none" stroke-linejoin="round"/><polygon points="482.05,489.73 482.05,492.88 479.53,491.30" fill="#c9a227"/><polygon points="495.02,478.31 495.02,481.46 492.50,479.89" fill="#c9a227"/><polygon points="511.23,442.88 511.23,446.03 508.71,444.45" fill="#c9a227"/><polygon points="543.65,156.81 543.65,159.95 541.13,158.38" fill="#c9a227"/><polygon points="576.07,-229.62 576.07,-226.47 573.55,-228.05" fill="#c9a227"/>
<path d="M575.06,413.30V404.27M573.66,413.30h2.80M573.66,404.27h2.80" stroke="#7d4a4d" stroke-width="0.7" fill="none"/><path d="M481.04,491.30L494.01,490.11L510.22,487.97L542.64,480.36L575.06,409.02" stroke="#7d4a4d" stroke-width="0.9" fill="none" stroke-linejoin="round"/><polygon points="482.16,492.00 481.04,492.70 479.93,492.00 479.93,490.60 481.04,489.90 482.16,490.60" fill="#7d4a4d"/><polygon points="495.13,490.81 494.01,491.51 492.89,490.81 492.89,489.41 494.01,488.71 495.13,489.41" fill="#7d4a4d"/><polygon points="511.34,488.67 510.22,489.37 509.10,488.67 509.10,487.27 510.22,486.57 511.34,487.27" fill="#7d4a4d"/><polygon points="543.76,481.06 542.64,481.76 541.52,481.06 541.52,479.66 542.64,478.96 543.76,479.66" fill="#7d4a4d"/><polygon points="576.18,409.72 575.06,410.42 573.94,409.72 573.94,408.32 575.06,407.62 576.18,408.32" fill="#7d4a4d"/>
<path d="M542.64,463.24V459.67M541.24,463.24h2.80M541.24,459.67h2.80" stroke="#8c9a1f" stroke-width="0.7" fill="none"/><path d="M575.06,403.79V393.80M573.66,403.79h2.80M573.66,393.80h2.80" stroke="#8c9a1f" stroke-width="0.7" fill="none"/><path d="M481.04,487.02L494.01,485.59L510.22,483.21L542.64,461.57L575.06,399.03" stroke="#8c9a1f" stroke-width="0.9" fill="none" stroke-linejoin="round"/><polygon points="481.04,485.41 481.43,486.48 482.57,486.52 481.67,487.23 481.99,488.32 481.04,487.68 480.10,488.32 480.41,487.23 479.51,486.52 480.65,486.48" fill="#8c9a1f"/><polygon points="494.01,483.98 494.40,485.05 495.54,485.10 494.64,485.80 494.96,486.90 494.01,486.26 493.06,486.90 493.38,485.80 492.48,485.10 493.62,485.05" fill="#8c9a1f"/><polygon points="510.22,481.60 510.61,482.68 511.75,482.72 510.85,483.42 511.17,484.52 510.22,483.88 509.27,484.52 509.59,483.42 508.69,482.72 509.83,482.68" fill="#8c9a1f"/><polygon points="542.64,459.96 543.03,461.04 544.17,461.08 543.27,461.78 543.59,462.88 542.64,462.24 541.69,462.88 542.01,461.78 541.11,461.08 542.25,461.04" fill="#8c9a1f"/><polygon points="575.06,397.42 575.45,398.50 576.59,398.54 575.69,399.24 576.01,400.34 575.06,399.70 574.11,400.34 574.43,399.24 573.53,398.54 574.67,398.50" fill="#8c9a1f"/>
</g>
<path d="M474.2,491.30h2M474.2,467.52h2M474.2,443.74h2M474.2,419.96h2M474.2,396.18h2M474.2,372.40h2M477.80,491.3v-2M510.22,491.3v-2M542.64,491.3v-2M575.06,491.3v-2M607.48,491.3v-2M639.90,491.3v-2" stroke="#444" stroke-width="0.8" fill="none"/>
<text class="in" x="471.2" y="494.30" text-anchor="end">0</text>
<text class="in" x="471.2" y="470.52" text-anchor="end">100</text>
<text class="in" x="471.2" y="446.74" text-anchor="end">200</text>
<text class="in" x="471.2" y="422.96" text-anchor="end">300</text>
<text class="in" x="471.2" y="399.18" text-anchor="end">400</text>
<text class="in" x="471.2" y="375.40" text-anchor="end">500</text>
<text class="in" x="477.80" y="500.8" text-anchor="middle">0</text>
<text class="in" x="510.22" y="500.8" text-anchor="middle">1000</text>
<text class="in" x="542.64" y="500.8" text-anchor="middle">2000</text>
<text class="in" x="575.06" y="500.8" text-anchor="middle">3000</text>
<text class="in" x="607.48" y="500.8" text-anchor="middle">4000</text>
<text class="in" x="639.90" y="500.8" text-anchor="middle">5000</text>
</svg></body></html>
